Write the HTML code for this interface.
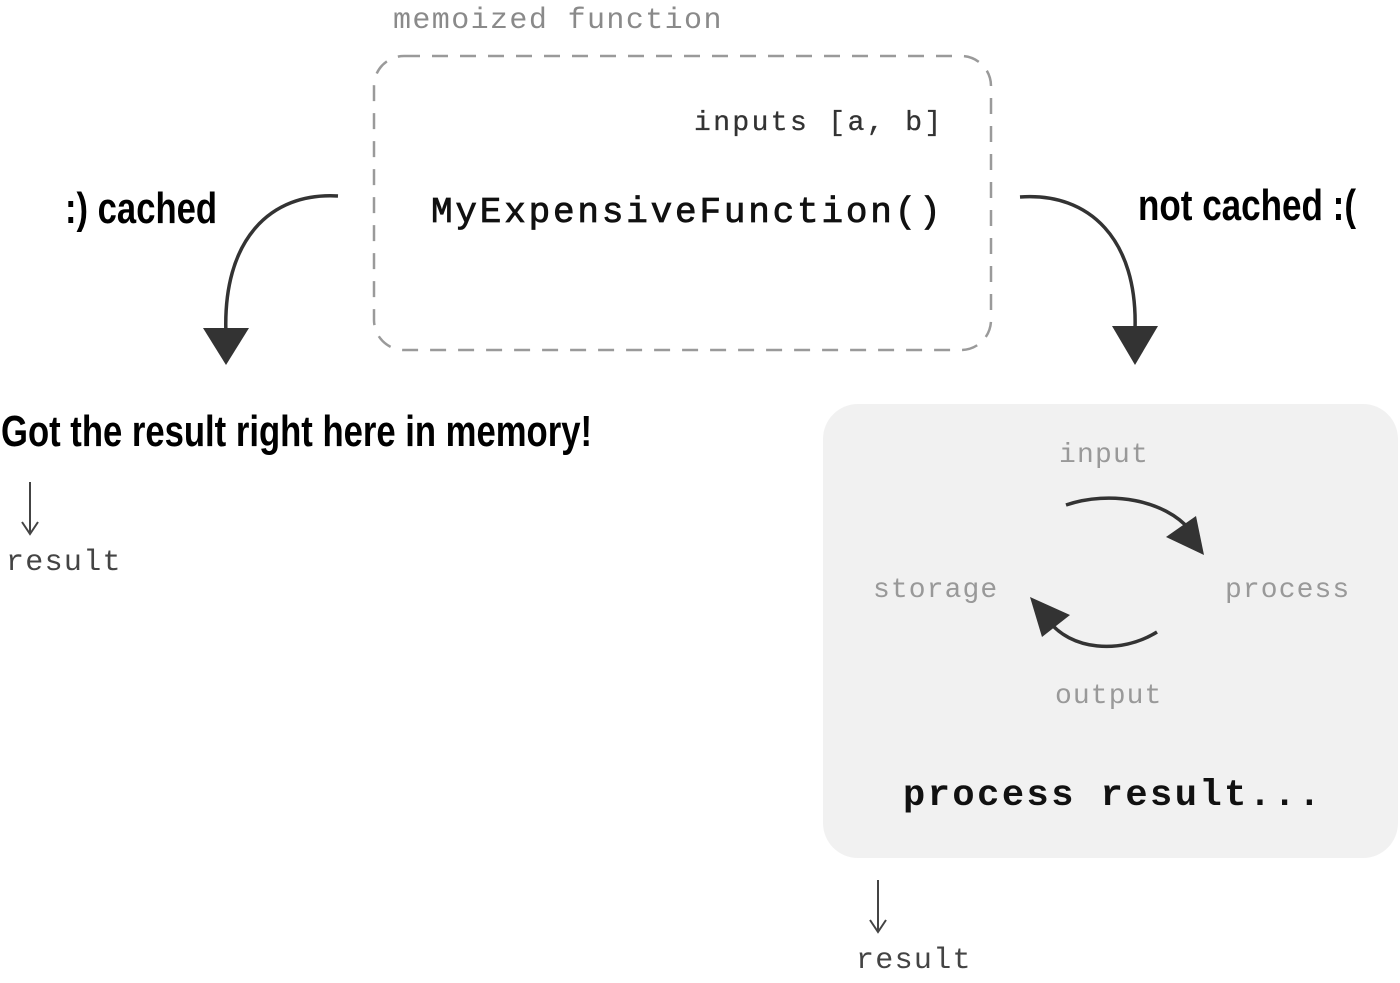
<!DOCTYPE html>
<html><head><meta charset="utf-8"><style>
html,body{margin:0;padding:0;background:#fff;}
svg{display:block}
.m{font-family:"Liberation Mono","DejaVu Sans Mono",monospace;}
.h{font-family:"Liberation Sans Narrow","Liberation Sans",sans-serif;font-weight:bold;}
</style></head><body>
<svg width="1400" height="983" viewBox="0 0 1400 983" xmlns="http://www.w3.org/2000/svg">
<text class="m" x="393" y="28" font-size="30" fill="#8a8a8a" letter-spacing="1.4">memoized function</text>
<rect x="374" y="56" width="617" height="294" rx="30" fill="none" stroke="#9a9a9a" stroke-width="2.5" stroke-dasharray="16 12"/>
<text class="m" x="694" y="130" font-size="28" fill="#333" letter-spacing="2.4" stroke="#333" stroke-width="0.3">inputs [a, b]</text>
<text class="m" x="431" y="222" font-size="36" fill="#111" letter-spacing="2.8" stroke="#111" stroke-width="0.8">MyExpensiveFunction()</text>

<text class="h" x="65" y="223" font-size="44" fill="#000" textLength="152" lengthAdjust="spacingAndGlyphs">:) cached</text>
<text class="h" x="1138" y="220" font-size="44" fill="#000" textLength="218" lengthAdjust="spacingAndGlyphs">not cached :(</text>

<path d="M338,196 C270,192 222,240 226,335" fill="none" stroke="#333" stroke-width="3.5"/>
<polygon points="203,328 249,328 226,365" fill="#333"/>
<path d="M1020,197 C1090,192 1138,240 1135,330" fill="none" stroke="#333" stroke-width="3.5"/>
<polygon points="1112,326 1158,326 1135,365" fill="#333"/>

<text class="h" x="1" y="446" font-size="44" fill="#000" textLength="591" lengthAdjust="spacingAndGlyphs">Got the result right here in memory!</text>
<line x1="30" y1="482" x2="30" y2="532" stroke="#444" stroke-width="2"/>
<polyline points="22,522 30,534 38,522" fill="none" stroke="#444" stroke-width="2"/>
<text class="m" x="6" y="570" font-size="30" fill="#444" letter-spacing="1.3">result</text>

<rect x="823" y="404" width="575" height="454" rx="35" fill="#f1f1f1"/>
<text class="m" x="1104" y="462" font-size="28" fill="#999" text-anchor="middle" letter-spacing="1.2">input</text>
<text class="m" x="873" y="597" font-size="28" fill="#999" letter-spacing="1.1">storage</text>
<text class="m" x="1225" y="597" font-size="28" fill="#999" letter-spacing="1.1">process</text>
<text class="m" x="1055" y="703" font-size="28" fill="#999" letter-spacing="1.1">output</text>
<path d="M1066,505 C1110,490 1165,500 1190,530" fill="none" stroke="#333" stroke-width="3.5"/>
<polygon points="1166,537 1196,516 1204,555" fill="#333"/>
<path d="M1157,632 C1120,655 1070,650 1048,620" fill="none" stroke="#333" stroke-width="3.5"/>
<polygon points="1030,597 1070,615 1042,637" fill="#333"/>
<text class="m" x="903" y="805" font-size="37" font-weight="bold" fill="#111" letter-spacing="2.5">process result...</text>

<line x1="878" y1="880" x2="878" y2="930" stroke="#444" stroke-width="2"/>
<polyline points="870,920 878,932 886,920" fill="none" stroke="#444" stroke-width="2"/>
<text class="m" x="856" y="968" font-size="30" fill="#444" letter-spacing="1.3">result</text>
</svg>
</body></html>
